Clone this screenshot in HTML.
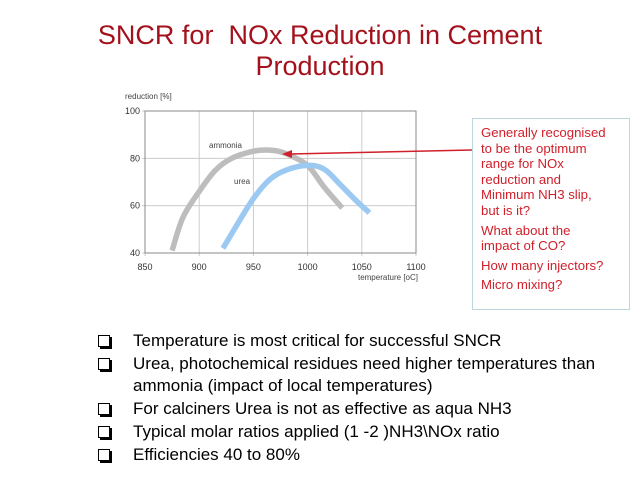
<!DOCTYPE html>
<html><head><meta charset="utf-8"><style>
body{margin:0;width:638px;height:479px;background:#fff;position:relative;overflow:hidden;font-family:"Liberation Sans",sans-serif}
#title{position:absolute;left:60px;width:520px;top:20px;text-align:center;color:#a3121c;font-size:27px;line-height:31px}
#bullets{position:absolute;left:95px;top:330px;font-size:17px;line-height:22.7px;color:#000}
.b{position:relative;padding-left:38px}
.cb{position:absolute;left:3px;top:5px;width:10px;height:10px;border:1.5px solid #000;box-shadow:2px 2px 0 #000}
#note{position:absolute;left:472px;top:118px;width:140px;height:184px;border:1px solid #bcd7de;padding:6px 8px 0 8px;color:#d0202a;font-size:13.2px;line-height:15.6px}
#note p{margin:0 0 4px 0}
</style></head><body>
<div id="title">SNCR for&nbsp; NOx Reduction in Cement<br>Production</div>
<svg id="chart" width="638" height="479" style="position:absolute;left:0;top:0"></svg>
<div id="note">
<p>Generally recognised<br>to be the optimum<br>range for NOx<br>reduction and<br>Minimum NH3 slip,<br>but is it?</p>
<p>What about the<br>impact of CO?</p>
<p>How many injectors?</p>
<p>Micro mixing?</p></div>
<div id="bullets">
<div class="b"><span class="cb"></span>Temperature is most critical for successful SNCR</div>
<div class="b"><span class="cb"></span>Urea, photochemical residues need higher temperatures than<br>ammonia (impact of local temperatures)</div>
<div class="b"><span class="cb"></span>For calciners Urea is not as effective as aqua NH3</div>
<div class="b"><span class="cb"></span>Typical molar ratios applied (1 -2 )NH3\NOx ratio</div>
<div class="b"><span class="cb"></span>Efficiencies 40 to 80%</div>
</div>
<script>
const xTicks=[850,900,950,1000,1050,1100];
const yTicks=[40,60,80,100];
const ammoniaT=[875,885,900,915,930,950,965,980,1000,1015,1032];
const ammoniaR=[41,55,66,75,80,83,83.5,82,77,68,59];
const ureaT=[922,935,950,965,980,1000,1015,1030,1045,1057];
const ureaR=[42,52,63,71,75,77,75.5,69,62,57];
const NS="http://www.w3.org/2000/svg";
const svg=document.getElementById('chart');
const X0=145,X1=416,Y0=253,Y1=111;
const sx=v=>X0+(v-850)/250*(X1-X0);
const sy=v=>Y0-(v-40)/60*(Y0-Y1);
function mk(t,a,p){const e=document.createElementNS(NS,t);for(const k in a)e.setAttribute(k,a[k]);(p||svg).appendChild(e);return e;}
xTicks.forEach(v=>{
 const l=mk('line',{x1:sx(v),x2:sx(v),y1:Y1,y2:Y0+3,stroke:'#ccc','stroke-width':1});
 
 
 const t=mk('text',{x:sx(v),y:Y0+17,'font-size':9,'text-anchor':'middle',fill:'#333','font-family':'Liberation Sans'});
 t.textContent=v;
 
 
});
yTicks.forEach(v=>{
 const l=mk('line',{x1:X0-3,x2:X1,y1:sy(v),y2:sy(v),stroke:'#ccc','stroke-width':1});
 
 
 const t=mk('text',{x:X0-5,y:sy(v)+3,'font-size':9,'text-anchor':'end',fill:'#333','font-family':'Liberation Sans'});
 t.textContent=v;
 
 
});
const fr=mk('rect',{x:X0,y:Y1,width:X1-X0,height:Y0-Y1,fill:'none',stroke:'#888','stroke-width':1});


function txt(s,x,y,sz,anchor,name){const t=mk('text',{x,y,'font-size':sz,'text-anchor':anchor||'start',fill:'#444','font-family':'Liberation Sans'});t.textContent=s;

}
txt('reduction [%]',125,99,8,'start','y-axis-title');
txt('temperature [oC]',418,280,8,'end','x-axis-title');
txt('ammonia',209,148,8,'start','ammonia-label');
txt('urea',234,184,8,'start','urea-label');
function curve(T,R,col,name){
 const P=T.map((t,i)=>[sx(t),sy(R[i])]);
 let d='M'+P[0][0].toFixed(1)+','+P[0][1].toFixed(1);
 for(let i=0;i<P.length-1;i++){
  const p0=P[Math.max(0,i-1)],p1=P[i],p2=P[i+1],p3=P[Math.min(P.length-1,i+2)];
  const c1=[p1[0]+(p2[0]-p0[0])/6,p1[1]+(p2[1]-p0[1])/6];
  const c2=[p2[0]-(p3[0]-p1[0])/6,p2[1]-(p3[1]-p1[1])/6];
  d+=' C'+c1.map(v=>v.toFixed(1)).join(',')+' '+c2.map(v=>v.toFixed(1)).join(',')+' '+p2.map(v=>v.toFixed(1)).join(',');
 }
 const p=mk('path',{d,fill:'none',stroke:col,'stroke-width':5.5,'stroke-linejoin':'round','stroke-linecap':'butt'});
 
 
}
curve(ammoniaT,ammoniaR,'#bdbdbd','ammonia-line');
curve(ureaT,ureaR,'#9cc9f2','urea-line');
const ar=mk('line',{x1:472,y1:150,x2:290,y2:154,stroke:'#d0202a','stroke-width':1.5});


const ah=mk('polygon',{points:'282,154 292,150 292,158',fill:'#d0202a'});


</script>
</body></html>
